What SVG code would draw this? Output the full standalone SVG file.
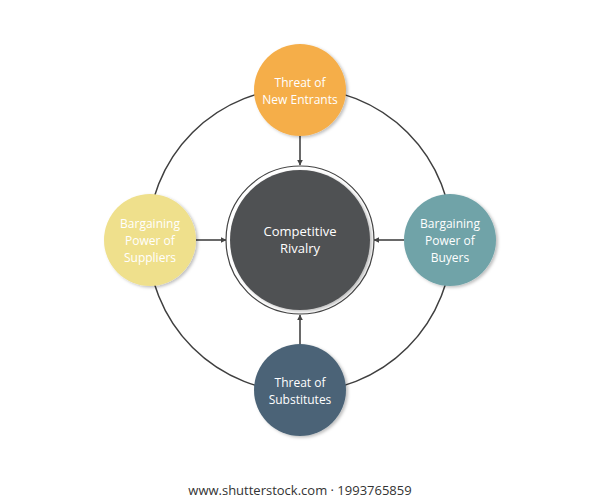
<svg xmlns="http://www.w3.org/2000/svg" width="600" height="500" viewBox="0 0 600 500">
<style>
.lbl{font-family:"Open Sans","Noto Sans","Liberation Sans",sans-serif;font-size:12px;fill:#ffffff;text-anchor:middle}
.ctr{font-size:13px}
.ring{fill:none;stroke:#3f3f3f;stroke-width:1.5}
.conn{stroke:#444;stroke-width:1.6;fill:none;marker-end:url(#ah)}
.foot{font-family:"Open Sans","Noto Sans","Liberation Sans",sans-serif;font-size:13px;fill:#333;text-anchor:middle}
</style>
<defs>
<marker id="ah" viewBox="0 0 10 10" refX="9" refY="5" markerWidth="6" markerHeight="6" orient="auto" markerUnits="userSpaceOnUse">
<path d="M0,0 L10,5 L0,10 z" fill="#444"/>
</marker>
<filter id="sh" x="-20%" y="-20%" width="140%" height="140%">
<feDropShadow dx="2" dy="1.5" stdDeviation="1.5" flood-color="#000" flood-opacity="0.25"/>
</filter>
</defs>
<rect width="600" height="500" fill="#ffffff"/>
<circle class="ring" cx="300" cy="240" r="152"/>
<g id="connectors">
<line class="conn" x1="300" y1="136" x2="300" y2="165"/>
<line class="conn" x1="196" y1="240" x2="226" y2="240"/>
<line class="conn" x1="404" y1="240" x2="374" y2="240"/>
<line class="conn" x1="300" y1="344" x2="300" y2="315"/>
</g>
<g id="center">
<circle cx="300" cy="240" r="74" fill="#ffffff" stroke="#444" stroke-width="1.2"/>
<circle cx="300" cy="240" r="70" fill="#505153" filter="url(#sh)"/>
<text class="lbl ctr" x="300" y="236">Competitive</text>
<text class="lbl ctr" x="300" y="253">Rivalry</text>
</g>
<g id="new-entrants">
<circle cx="300" cy="90" r="46" fill="#F5AE4A" filter="url(#sh)"/>
<text class="lbl" x="300" y="87">Threat of</text>
<text class="lbl" x="300" y="104">New Entrants</text>
</g>
<g id="suppliers">
<circle cx="150" cy="240" r="46" fill="#EFE08C" filter="url(#sh)"/>
<text class="lbl" x="150" y="228">Bargaining</text>
<text class="lbl" x="150" y="245">Power of</text>
<text class="lbl" x="150" y="262">Suppliers</text>
</g>
<g id="buyers">
<circle cx="450" cy="240" r="46" fill="#70A3A8" filter="url(#sh)"/>
<text class="lbl" x="450" y="228">Bargaining</text>
<text class="lbl" x="450" y="245">Power of</text>
<text class="lbl" x="450" y="262">Buyers</text>
</g>
<g id="substitutes">
<circle cx="300" cy="390" r="46" fill="#4B6477" filter="url(#sh)"/>
<text class="lbl" x="300" y="387">Threat of</text>
<text class="lbl" x="300" y="404">Substitutes</text>
</g>
<text class="foot" x="300" y="495">www.shutterstock.com · 1993765859</text>
</svg>
